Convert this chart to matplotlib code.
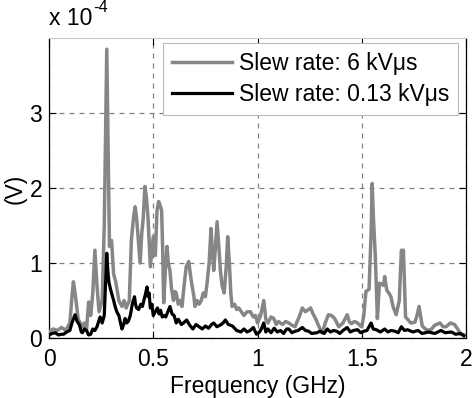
import matplotlib; matplotlib.use("Agg")
import matplotlib.pyplot as plt

# spectra, amplitude in units of 1e-4 V
freq_fast = [0, 0.02, 0.04, 0.06, 0.08, 0.10, 0.11, 0.117, 0.125, 0.14, 0.16, 0.17, 0.18, 0.19, 0.20,
             0.21, 0.22, 0.23, 0.24, 0.255, 0.265, 0.277, 0.285, 0.29, 0.30, 0.31, 0.32, 0.335, 0.35, 0.36,
             0.37, 0.385, 0.395, 0.405, 0.413, 0.42, 0.43, 0.437, 0.445, 0.452, 0.46, 0.468, 0.475, 0.486,
             0.495, 0.50, 0.51, 0.518, 0.526, 0.535, 0.54, 0.545, 0.55, 0.558, 0.566, 0.572, 0.58, 0.588,
             0.597, 0.605, 0.61, 0.62, 0.63, 0.638, 0.648, 0.658, 0.67, 0.678, 0.686, 0.695, 0.70, 0.71,
             0.72, 0.73, 0.74, 0.75, 0.758, 0.768, 0.777, 0.785, 0.79, 0.798, 0.806, 0.815, 0.822, 0.83,
             0.84, 0.85, 0.857, 0.865, 0.872, 0.878, 0.89, 0.90, 0.91, 0.92, 0.935, 0.95, 0.966, 0.98,
             0.99, 1.0, 1.015, 1.03, 1.04, 1.05, 1.065, 1.078, 1.09, 1.10, 1.12, 1.135, 1.15, 1.165,
             1.18, 1.19, 1.2, 1.215, 1.23, 1.245, 1.255, 1.265, 1.28, 1.295, 1.31, 1.325, 1.34, 1.355,
             1.37, 1.39, 1.41, 1.43, 1.44, 1.45, 1.465, 1.48, 1.49, 1.50, 1.51, 1.52, 1.535, 1.545,
             1.55, 1.556, 1.565, 1.575, 1.585, 1.595, 1.605, 1.61, 1.62, 1.63, 1.64, 1.65, 1.665, 1.68,
             1.69, 1.70, 1.71, 1.72, 1.735, 1.755, 1.765, 1.775, 1.79, 1.805, 1.82, 1.835, 1.85, 1.875,
             1.89, 1.905, 1.925, 1.945, 1.96, 1.975, 1.99]
amp_fast = [0.08, 0.12, 0.10, 0.14, 0.10, 0.20, 0.55, 0.75, 0.60, 0.25, 0.15, 0.20, 0.10, 0.48, 0.30,
            0.60, 1.17, 0.70, 0.35, 0.50, 1.50, 3.85, 2.20, 1.22, 1.30, 0.85, 0.75, 0.50, 0.42, 0.50,
            0.40, 0.50, 1.30, 1.60, 1.75, 1.60, 1.25, 1.00, 1.40, 1.60, 2.02, 1.85, 1.60, 0.95,
            1.20, 1.35, 1.10, 1.70, 1.82, 1.75, 1.70, 1.20, 0.47, 0.90, 1.22, 1.00, 0.90, 0.65,
            0.50, 0.62, 0.60, 0.45, 0.50, 0.42, 0.70, 0.95, 1.02, 0.85, 0.70, 0.55, 0.42, 0.50,
            0.45, 0.50, 0.60, 0.55, 0.73, 1.00, 1.46, 1.10, 0.90, 1.20, 1.55, 1.20, 0.90, 0.70,
            0.60, 0.95, 1.35, 1.00, 0.60, 0.42, 0.45, 0.38, 0.40, 0.36, 0.30, 0.35, 0.35, 0.28,
            0.30, 0.20, 0.30, 0.50, 0.25, 0.20, 0.28, 0.26, 0.18, 0.22, 0.18, 0.22, 0.20, 0.17,
            0.15, 0.22, 0.28, 0.40, 0.35, 0.38, 0.40, 0.33, 0.25, 0.15, 0.07, 0.20, 0.31, 0.30,
            0.26, 0.15, 0.20, 0.31, 0.22, 0.19, 0.22, 0.20, 0.17, 0.15, 0.30, 0.62, 0.65, 1.40,
            2.06, 1.60, 1.10, 0.26, 0.73, 0.72, 0.70, 0.82, 0.64, 0.60, 0.55, 0.42, 0.31, 0.50,
            1.17, 1.17, 0.28, 0.25, 0.20, 0.21, 0.30, 0.42, 0.16, 0.12, 0.10, 0.12, 0.17, 0.20,
            0.15, 0.15, 0.20, 0.18, 0.12, 0.05, 0.04]

freq_slow = [0, 0.015, 0.03, 0.045, 0.06, 0.07, 0.085, 0.10, 0.11, 0.125, 0.135, 0.145, 0.155, 0.16,
             0.17, 0.18, 0.19, 0.20, 0.21, 0.22, 0.23, 0.245, 0.255, 0.265, 0.272, 0.277, 0.282, 0.287,
             0.295, 0.30, 0.31, 0.317, 0.325, 0.335, 0.343, 0.35, 0.358, 0.365, 0.372, 0.38, 0.39, 0.40,
             0.41, 0.415, 0.42, 0.43, 0.44, 0.448, 0.455, 0.462, 0.47, 0.475, 0.48, 0.486, 0.493, 0.50,
             0.51, 0.52, 0.528, 0.535, 0.543, 0.55, 0.56, 0.57, 0.58, 0.59, 0.60, 0.61, 0.62, 0.635,
             0.645, 0.66, 0.675, 0.69, 0.705, 0.72, 0.735, 0.75, 0.765, 0.78, 0.79, 0.805, 0.82, 0.835,
             0.846, 0.86, 0.88, 0.90, 0.92, 0.935, 0.95, 0.965, 0.98, 0.995, 1.01, 1.02, 1.03, 1.04,
             1.05, 1.065, 1.08, 1.095, 1.11, 1.125, 1.14, 1.15, 1.165, 1.18, 1.195, 1.215, 1.23, 1.245,
             1.26, 1.285, 1.30, 1.32, 1.335, 1.35, 1.365, 1.38, 1.395, 1.41, 1.43, 1.445, 1.46, 1.48,
             1.495, 1.51, 1.525, 1.545, 1.555, 1.57, 1.59, 1.61, 1.625, 1.64, 1.66, 1.675, 1.69, 1.705,
             1.72, 1.745, 1.77, 1.79, 1.82, 1.85, 1.88, 1.90, 1.93, 1.95, 1.975, 1.99]
amp_slow = [0.04, 0.06, 0.07, 0.04, 0.05, 0.05, 0.08, 0.10, 0.20, 0.31, 0.22, 0.18, 0.08, 0.07,
            0.12, 0.10, 0.04, 0.05, 0.12, 0.10, 0.15, 0.28, 0.20, 0.30, 0.80, 1.13, 0.90, 0.75,
            0.65, 0.60, 0.50, 0.42, 0.35, 0.30, 0.20, 0.12, 0.18, 0.26, 0.20, 0.22, 0.30, 0.46,
            0.55, 0.45, 0.40, 0.38, 0.45, 0.42, 0.50, 0.58, 0.68, 0.55, 0.60, 0.40, 0.45, 0.30,
            0.35, 0.40, 0.32, 0.37, 0.28, 0.30, 0.28, 0.35, 0.42, 0.32, 0.30, 0.20, 0.25, 0.18,
            0.20, 0.24, 0.17, 0.12, 0.18, 0.15, 0.12, 0.16, 0.13, 0.18, 0.20, 0.15, 0.17, 0.20,
            0.24, 0.18, 0.16, 0.10, 0.08, 0.12, 0.08, 0.10, 0.14, 0.05, 0.08, 0.13, 0.20, 0.08,
            0.12, 0.07, 0.13, 0.08, 0.10, 0.06, 0.12, 0.12, 0.07, 0.09, 0.10, 0.14, 0.10, 0.09,
            0.06, 0.07, 0.09, 0.06, 0.12, 0.08, 0.10, 0.09, 0.06, 0.10, 0.14, 0.08, 0.10, 0.11,
            0.07, 0.09, 0.10, 0.20, 0.12, 0.11, 0.08, 0.12, 0.08, 0.10, 0.09, 0.07, 0.15, 0.10,
            0.11, 0.08, 0.10, 0.06, 0.08, 0.06, 0.10, 0.07, 0.08, 0.05, 0.06, 0.03]

labels = ["Slew rate: 6 kVμs", "Slew rate: 0.13 kVμs"]
xticks = [0, 0.5, 1, 1.5, 2]
xticklabels = ["0", "0.5", "1", "1.5", "2"]
yticks = [0, 1, 2, 3]

plt.rcParams["font.family"] = ["Liberation Sans", "DejaVu Sans"]
fig = plt.figure(figsize=(4.74, 3.98), dpi=100)
ax = fig.add_axes([0.1034, 0.1508, 0.8797, 0.7537])

ax.plot(freq_fast, amp_fast, color="#868686", lw=2.5, label=labels[0], zorder=3)
ax.plot(freq_slow, amp_slow, color="black", lw=2.3, label=labels[1], zorder=4)

ax.set_xlim(0, 2); ax.set_ylim(0, 4)
ax.set_xticks(xticks); ax.set_xticklabels(xticklabels)
ax.set_yticks(yticks)
ax.grid(True, color="#808080", linestyle=(0, (4, 4)), lw=0.9)
ax.tick_params(direction="in", length=5, labelsize=16.5, top=True, right=True, width=0.8)
ax.tick_params(axis="x", pad=7)
ax.tick_params(axis="y", pad=5)
for s in ["left", "bottom", "right"]:
    ax.spines[s].set_linewidth(0.9)
ax.spines["top"].set_color("#c8c8c8")

ax.set_xlabel("Frequency (GHz)", fontsize=16.5, labelpad=3)
fig.text(0.032, 0.525, "(V)", rotation=90, fontsize=16.5, ha="center", va="center")
fig.text(0.103, 0.925, "x 10", fontsize=16.5, ha="left", va="bottom")
fig.text(0.197, 0.962, "-4", fontsize=12, ha="left", va="bottom")

leg = ax.legend(loc="upper right", bbox_to_anchor=(0.981, 0.983), borderaxespad=0,
                fontsize=16.5, frameon=True, fancybox=False, handlelength=2.6,
                handletextpad=0.3, labelspacing=0.35, borderpad=0.4)
leg.get_frame().set_edgecolor("#bbbbbb")
leg.get_frame().set_linewidth(0.8)
leg.get_frame().set_alpha(1)

fig.savefig("out.png", dpi=100)
